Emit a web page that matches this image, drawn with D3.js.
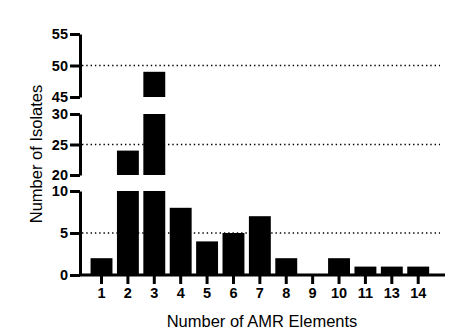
<!DOCTYPE html>
<meta charset="utf-8">
<style>
  body { margin: 0; background: #fff; }
  text { font-family: "Liberation Sans", Arial, sans-serif; fill: #000; }
  .axis text { font-weight: bold; font-size: 14.5px; }
  .axis path, .axis line { stroke: #000; stroke-width: 3; }
  .grid { stroke: #000; stroke-width: 1.6; stroke-dasharray: 1.4,2.9; }
</style>
<body>
<script src="https://d3js.org/d3.v7.min.js"></script>
<script>
// data
var categories = ["1","2","3","4","5","6","7","8","9","10","11","13","14"];
var isolates   = [2, 24, 49, 8, 4, 5, 7, 2, 0, 2, 1, 1, 1];

// broken y axis: three pieces
var segDomains = [[0, 10], [20, 30], [45, 55]];
var segRanges  = [[275, 191], [175, 114], [97, 34]];
var segTicks   = [[0, 5, 10], [20, 25, 30], [45, 50, 55]];
var gridLines  = [5, 25, 50];

var width = 474,
    height = 335;

var svg = d3.select("body").append("svg")
    .attr("width", width)
    .attr("height", height);

var x = d3.scaleBand()
    .domain(categories)
    .range([80, 445])
    .paddingInner(0.17)
    .paddingOuter(0.5)
    .align(0.4);

var segs = segDomains.map(function(d, i) {
  return d3.scaleLinear().domain(d).range(segRanges[i]);
});

// dotted gridlines (behind bars)
gridLines.forEach(function(v) {
  var s = segs.find(function(sc) { return v >= sc.domain()[0] && v <= sc.domain()[1]; });
  svg.append("line")
      .attr("class", "grid")
      .attr("x1", 82).attr("x2", 440)
      .attr("y1", s(v)).attr("y2", s(v));
});

// bars, one piece per segment
segs.forEach(function(s) {
  var lo = s.domain()[0], hi = s.domain()[1];
  svg.append("g").selectAll("rect")
      .data(categories.map(function(c, i) { return {c: c, v: isolates[i]}; })
            .filter(function(d) { return d.v > lo; }))
    .enter().append("rect")
      .attr("x", function(d) { return x(d.c); })
      .attr("width", x.bandwidth())
      .attr("y", function(d) { return s(Math.min(d.v, hi)); })
      .attr("height", function(d) { return s(lo) - s(Math.min(d.v, hi)); })
      .attr("fill", "#000");
});

// y axis pieces
segs.forEach(function(s, i) {
  svg.append("g")
      .attr("class", "axis")
      .attr("transform", "translate(80,0)")
      .call(d3.axisLeft(s).tickValues(segTicks[i]).tickSize(10).tickSizeOuter(0).tickPadding(2));
});

// x axis
var xg = svg.append("g")
    .attr("class", "axis")
    .attr("transform", "translate(0,275)")
    .call(d3.axisBottom(x).tickSize(9).tickSizeOuter(0).tickPadding(4));
xg.select(".domain").attr("d", "M" + x.range()[0] + ",0H" + x.range()[1]);

// titles
svg.append("text")
    .attr("transform", "translate(42,154) rotate(-90)")
    .attr("text-anchor", "middle")
    .style("font-size", "16.5px")
    .text("Number of Isolates");

svg.append("text")
    .attr("x", 262)
    .attr("y", 327)
    .attr("text-anchor", "middle")
    .style("font-size", "16.5px")
    .text("Number of AMR Elements");
</script>
